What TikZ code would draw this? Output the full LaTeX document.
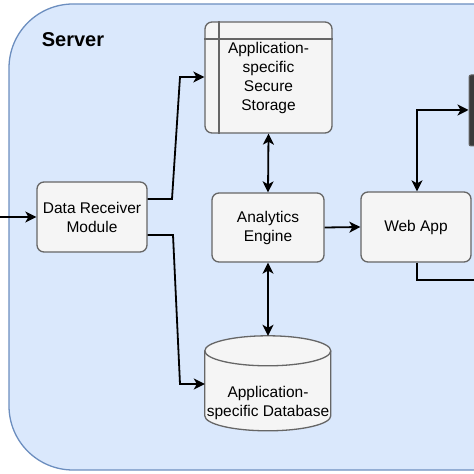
\documentclass[tikz,border=0pt]{standalone}
\usepackage{fontspec}
\setmainfont{Liberation Sans}
\usetikzlibrary{arrows.meta}
\definecolor{srvfill}{HTML}{DAE8FC}
\definecolor{srvline}{HTML}{6C8EBF}
\definecolor{boxfill}{HTML}{F5F5F5}
\definecolor{boxline}{HTML}{666666}
\definecolor{devfill}{HTML}{3B3B3B}
\tikzset{/SRV/S/box/.style={
	shape=rectangle, draw=boxline, fill=boxfill, line width=1.3pt,
	rounded corners=7pt, align=center, inner sep=0,
	font=\fontsize{15.5}{19}\selectfont
}}
\tikzset{/SRV/S/link/.style={
	draw=black, line width=1.8pt, -{Stealth[length=11pt,width=11pt,inset=3pt]}
}}
\tikzset{/SRV/S/both/.style={
	/SRV/S/link, {Stealth[length=11pt,width=11pt,inset=3pt]}-{Stealth[length=11pt,width=11pt,inset=3pt]}
}}

\begin{document}
\begin{tikzpicture}[x=1pt, y=1pt]
				\useasboundingbox (0,0) rectangle (474,474);
				\clip (0,0) rectangle (474,474);
				\path[fill=srvfill, draw=srvline, line width=1.3pt, rounded corners=64pt]
					(9,4) rectangle (560,470);
				\path (73,434) node[font=\fontsize{20}{24}\selectfont\bfseries] (server) {Server};
				% boxes
				\path (92,257) node[/SRV/S/box, minimum width=110pt, minimum height=70pt] (receiver) {Data Receiver\\Module};
				\path (268.5,396.5) node[/SRV/S/box, minimum width=127pt, minimum height=111pt] (storage) {Application-\\specific\\Secure\\Storage};
				\draw[boxline, line width=1.3pt] (storage.north west -| 219,0) -- (storage.south west -| 219,0);
				\draw[boxline, line width=1.3pt] (storage.west |- 0,435) -- (storage.east |- 0,435);
				\path (268,246.5) node[/SRV/S/box, minimum width=112pt, minimum height=69pt] (engine) {Analytics\\Engine};
				\path (engine.center) ++ (148,0.5) node[/SRV/S/box, minimum width=110pt, minimum height=70pt] (webapp) {Web App};
				\path (474.5,363.5) node[draw=boxline, fill=devfill, line width=1pt, rounded corners=2pt, minimum width=11pt, minimum height=71pt, inner sep=0] (device) {};
				% database
				\path (268,90.5) node[minimum width=126pt, minimum height=95pt, inner sep=0] (db) {};
				\draw[draw=boxline, fill=boxfill, line width=1.3pt]
					(db.north west) ++ (0,-15) -- ++(0,-65) arc[start angle=180, end angle=360, x radius=63pt, y radius=15pt]
					-- ++(0,65) arc[start angle=0, end angle=180, x radius=63pt, y radius=15pt] -- cycle;
				\draw[draw=boxline, line width=1.3pt]
					(db.north west) ++ (0,-15) arc[start angle=180, end angle=360, x radius=63pt, y radius=15pt];
				\path (db.center) ++ (0,-19.5) node[align=center, inner sep=0, font=\fontsize{15.5}{19}\selectfont] (dblabel) {Application-\\specific Database};
				% connectors
				\coordinate (in) at (0,257);
				\draw[/SRV/S/link] (in) -- (receiver.west);
				\draw[/SRV/S/link] (receiver.east |- 0,275) -- (172,275) -- (180,397) -- (storage.west |- 0,397);
				\draw[/SRV/S/link] (receiver.east |- 0,239) -- (173,239) -- (180,90) -- (db.west |- 0,90);
				\draw[/SRV/S/both] (storage.south) -- (engine.north);
				\draw[/SRV/S/both] (engine.south) -- (db.north);
				\draw[/SRV/S/link] (engine.east) -- (webapp.west);
				\draw[/SRV/S/both] (webapp.north -| 417,0) -- (417,364) -- (device.west |- 0,364);
				\coordinate (out) at (480,194);
				\draw[draw=black, line width=1.8pt] (webapp.south -| 417,0) -- (417,194) -- (out);
			\end{tikzpicture}
\end{document}
